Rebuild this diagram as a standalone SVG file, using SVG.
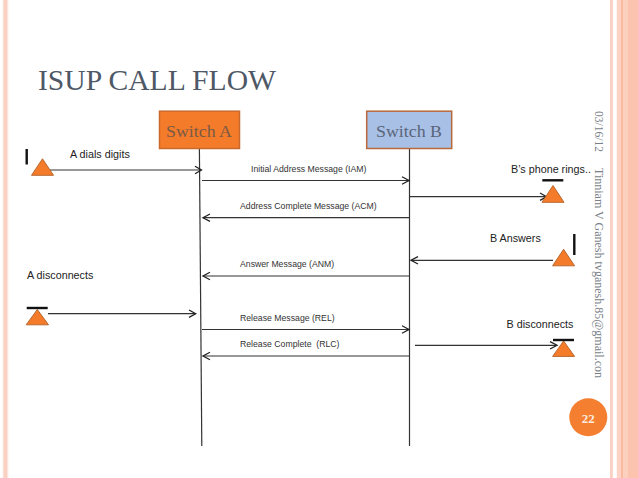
<svg xmlns="http://www.w3.org/2000/svg" width="638" height="478" viewBox="0 0 638 478">
<style>
.m{font-family:"Liberation Sans",Arial,sans-serif;font-size:8.7px;fill:#333;white-space:pre}
.l{font-family:"Liberation Sans",Arial,sans-serif;font-size:10.75px;fill:#222}
.s{font-family:"Liberation Serif","Times New Roman",serif}
.c{fill:none;stroke:#333;stroke-width:1.2}
.a{fill:none;stroke:#222;stroke-width:1.3}
.t{fill:#f47b2a;stroke:#b9682f;stroke-width:1}
.b{fill:none;stroke:#111;stroke-width:2.4}
</style>
<rect width="638" height="478" fill="#fff"/>
<g id="frame">
<rect x="2.500" y="0" width="6" height="478" fill="#fdeee8"/>
<rect x="3.500" y="0" width="3.800" height="478" fill="#f9d0c2"/>
<rect x="610" y="0" width="2.800" height="478" fill="#f9d0c2"/>
<rect x="616.800" y="0" width="4.200" height="478" fill="#fcd3c4"/>
<rect x="621" y="0" width="2" height="478" fill="#fbb9a0"/>
<rect x="623" y="0" width="5" height="478" fill="#fcd0bf"/>
<rect x="628" y="0" width="10" height="478" fill="#fcc4af"/>
</g>
<text id="title" x="38" y="90" class="s" font-size="29" fill="#4e5866" textLength="238" lengthAdjust="spacingAndGlyphs">ISUP CALL FLOW</text>
<g id="connectors">
<path class="c" d="M199.400 149L201.800 446"/>
<path class="c" d="M409.500 149V446"/>
<path class="c" d="M50 170H201"/><path class="a" d="M195 166.300L201.500 170L195 173.700"/>
<path class="c" d="M202 180.500H409"/><path class="a" d="M402 176.800L409 180.500L402 184.200"/>
<path class="c" d="M410 196.700H546"/><path class="a" d="M540 193L546.500 196.700L540 200.400"/>
<path class="c" d="M203 217.700H409"/><path class="a" d="M210 214L203 217.700L210 221.400"/>
<path class="c" d="M411 260.300H553"/><path class="a" d="M418 256.600L411 260.300L418 264"/>
<path class="c" d="M203 276H409"/><path class="a" d="M210 272.300L203 276L210 279.700"/>
<path class="c" d="M48 313.700H195"/><path class="a" d="M189 310L195.700 313.700L189 317.400"/>
<path class="c" d="M202 329.500H409"/><path class="a" d="M402 325.800L409 329.500L402 333.200"/>
<path class="c" d="M203 356H409"/><path class="a" d="M210 352.300L203 356L210 359.700"/>
<path class="c" d="M415 345.300H556"/><path class="a" d="M550 341.600L557 345.300L550 349"/>
</g>
<g id="switch-a"><rect x="159.500" y="111.200" width="80" height="37.300" fill="#f47b2a" stroke="#c9692c" stroke-width="1.500"/><text x="166" y="137" class="s" font-size="16.500" fill="#7a5a45" textLength="66" lengthAdjust="spacingAndGlyphs">Switch A</text></g>
<g id="switch-b"><rect x="366.700" y="111.200" width="85" height="37.300" fill="#a9c0e6" stroke="#b8693a" stroke-width="1.500"/><text x="376" y="137" class="s" font-size="16.500" fill="#5a6478" textLength="66" lengthAdjust="spacingAndGlyphs">Switch B</text></g>
<g id="phone-a1"><path class="t" d="M42.500 158.800L53.500 175.300H31.500Z"/><path class="b" d="M26.700 149V164.500"/></g>
<g id="phone-b1"><path class="t" d="M553 185.500L564 202.300H542Z"/><path class="b" d="M542.300 180.300H563.300"/></g>
<g id="phone-b2"><path class="t" d="M563.600 249.300L574.600 265.800H552.600Z"/><path class="b" d="M574.300 234V255"/></g>
<g id="phone-a2"><path class="t" d="M37.300 309.500L48.500 324.800H26.200Z"/><path class="b" d="M26.700 308H47.700"/></g>
<g id="phone-b3"><path class="t" d="M563.600 341L574.600 356.400H552.600Z"/><path class="b" d="M553 340H574"/></g>
<g id="labels">
<text x="70" y="157.500" class="l">A dials digits</text>
<text x="251" y="171.700" class="m">Initial Address Message (IAM)</text>
<text x="240" y="209" class="m">Address Complete Message (ACM)</text>
<text x="240" y="267.300" class="m">Answer Message (ANM)</text>
<text x="240" y="320.700" class="m">Release Message (REL)</text>
<text x="240" y="347.300" class="m" xml:space="preserve">Release Complete  (RLC)</text>
<text x="511" y="173.300" class="l">B’s phone rings..</text>
<text x="490" y="242.300" class="l">B Answers</text>
<text x="27" y="279.300" class="l">A disconnects</text>
<text x="506.500" y="327.700" class="l">B disconnects</text>
</g>
<g id="side" class="s" font-size="11.500" fill="#7a7f88">
<text transform="translate(595 111) rotate(90)" textLength="41" lengthAdjust="spacingAndGlyphs">03/16/12</text>
<text transform="translate(595 168) rotate(90)" textLength="210" lengthAdjust="spacingAndGlyphs">Tinniam V Ganesh tvganesh.85@gmail.con</text>
</g>
<g id="page"><circle cx="588.300" cy="417.300" r="19" fill="#f47f31"/><text x="588.300" y="422.500" text-anchor="middle" class="s" font-size="13" font-weight="bold" fill="#fbeadf">22</text></g>
</svg>
